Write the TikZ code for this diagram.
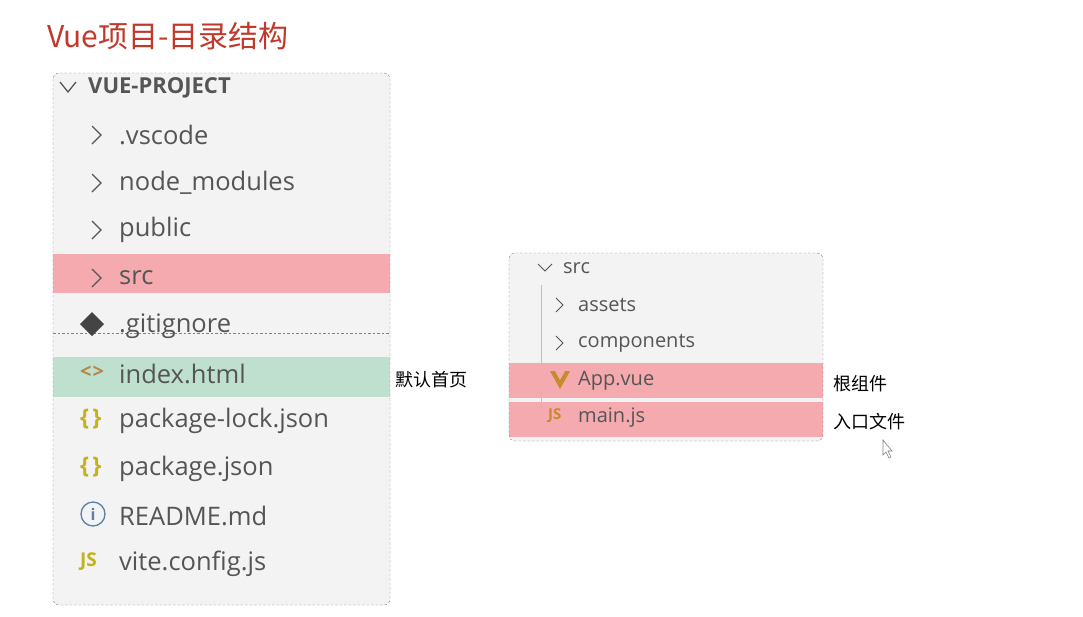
\documentclass[tikz,border=0pt]{standalone}
\usepackage{fontspec}
\setmainfont{Open Sans}
\newfontfamily\cjk{Noto Sans CJK SC}
\definecolor{txt}{HTML}{555555}
\definecolor{boxbg}{HTML}{F3F3F3}
\definecolor{hlred}{HTML}{F4AAAE}
\definecolor{hlgreen}{HTML}{BFE0CF}
\definecolor{titlered}{HTML}{C0392B}
\definecolor{jsy}{HTML}{C2B31E}
\definecolor{vueo}{HTML}{C98A2C}
\definecolor{infob}{HTML}{5A7FA8}
\begin{document}
\begin{tikzpicture}[x=1pt,y=-1pt,
  item/.style={anchor=west,text=txt,font=\fontsize{25.5}{28}\selectfont,inner sep=0},
  sitem/.style={anchor=west,text=txt,font=\fontsize{20}{22}\selectfont,inner sep=0},
  lbl/.style={anchor=west,text=black,font=\cjk\fontsize{18}{20}\selectfont,inner sep=0},
  chev/.style={draw=txt,line width=1.3pt},
  frame/.style={draw=gray,dash pattern=on 2.5pt off 2pt,rounded corners=6pt}]
\useasboundingbox (0,0) rectangle (1083,616);
\fill[white] (0,0) rectangle (1083,616);
\node[anchor=west,text=titlered,font=\cjk\fontsize{30}{32}\selectfont,inner sep=0] (title) at (47,36) {Vue项目-目录结构};
% left box
\fill[boxbg,rounded corners=6pt] (53,73) rectangle (390,605);
\fill[hlred] (53,254) rectangle (390,293);
\fill[hlgreen] (53,357) rectangle (390,397);
\draw[frame] (53,73) rectangle (390,605);
\draw[gray,dash pattern=on 2.5pt off 2pt] (53,333) -- (390,333);
\draw[chev] (60,82) -- (68,92) -- (76,82);
\node[item,font=\bfseries\fontsize{22}{26}\selectfont] (root) at (88,88) {VUE-PROJECT};
\foreach \y in {135,183,230,278} \draw[chev] (92,\y-9) -- (101,\y) -- (92,\y+9);
\node[item] (vscode) at (119,135) {.vscode};
\node[item] (nm) at (119,183) {node\_modules};
\node[item] (pub) at (119,230) {public};
\node[item] (src) at (119,278) {src};
\fill[txt!80!black] (92,312) -- (104,324) -- (92,336) -- (80,324) -- cycle;
\node[item] (git) at (119,326) {.gitignore};
\node[item,text=vueo!70!gray,font=\bfseries\fontsize{20}{22}\selectfont] (i1) at (80,372) {<\kern1pt>};
\node[item] (idx) at (119,374) {index.html};
\node[item,text=jsy,font=\bfseries\fontsize{23}{24}\selectfont] (i2) at (80,419) {\{\kern3pt\}};
\node[item] (pl) at (119,421) {package-lock.json};
\node[item,text=jsy,font=\bfseries\fontsize{23}{24}\selectfont] (i3) at (80,467) {\{\kern3pt\}};
\node[item] (pj) at (119,469) {package.json};
\draw[infob,line width=1.3pt] (93,514) circle (12);
\node[text=infob,font=\bfseries\fontsize{16}{16}\selectfont,inner sep=0] (i4) at (93,514) {i};
\node[item] (rd) at (119,516) {README.md};
\node[item,text=jsy,font=\bfseries\fontsize{19}{20}\selectfont] (i5) at (80,562) {JS};
\node[item] (vc) at (119,564) {vite.config.js};
\node[lbl] (l1) at (395,380) {默认首页};
% right box
\fill[boxbg,rounded corners=6pt] (509,253) rectangle (823,441);
\fill[hlred] (509,363) rectangle (823,398);
\fill[hlred] (509,402) rectangle (823,437);
\draw[frame] (509,253) rectangle (823,441);
\draw[gray!50,line width=0.8pt] (541,285) -- (541,437);
\draw[chev,line width=1pt] (538,264) -- (545,271) -- (552,264);
\node[sitem] (s0) at (563,268) {src};
\foreach \y in {305,343} \draw[chev,line width=1pt] (556,\y-7) -- (563,\y) -- (556,\y+7);
\node[sitem] (s1) at (578,305) {assets};
\node[sitem] (s2) at (578,343) {components};
\fill[vueo] (550,371) -- (570,371) -- (560,389) -- cycle;
\fill[hlred] (555,371) -- (565,371) -- (560,380) -- cycle;
\node[sitem] (s3) at (578,381) {App.vue};
\node[sitem,text=vueo,font=\bfseries\fontsize{15}{16}\selectfont] (i6) at (548,416) {JS};
\node[sitem] (s4) at (578,418) {main.js};
\node[lbl] (l2) at (833,384) {根组件};
\node[lbl] (l3) at (833,422) {入口文件};
\draw[gray,fill=white,line width=0.6pt] (883,440) -- (883,455) -- (886,452) -- (889,458) -- (891,457) -- (888,451) -- (892,451) -- cycle;
\end{tikzpicture}
\end{document}
